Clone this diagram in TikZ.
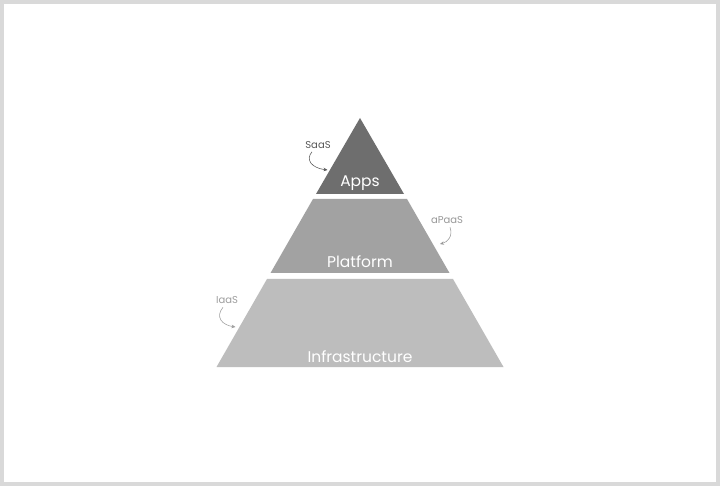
\documentclass[tikz,border=0pt]{standalone}
\usepackage{fontspec}
\setmainfont{Poppins}
\usetikzlibrary{arrows.meta}
\definecolor{appsc}{HTML}{6E6E6E}
\definecolor{platc}{HTML}{A2A2A2}
\definecolor{infrc}{HTML}{BDBDBD}
\definecolor{framec}{HTML}{D9D9D9}
\tikzset{
  layer/.style={draw=none},
  layertext/.style={text=white, font=\fontsize{15.5}{18}\selectfont, inner sep=0pt, anchor=base},
  tag/.style={font=\fontsize{10}{12}\selectfont, inner sep=0pt, anchor=base},
  tagarrow/.style={-{Stealth[length=4pt,width=3.5pt]}, line width=0.55pt},
}
\begin{document}
\begin{tikzpicture}[x=1pt,y=-1pt]
\useasboundingbox (0,0) rectangle (720,486);
\fill[white] (0,0) rectangle (720,486);
\draw[framec, line width=4pt] (2,2) rectangle (718,484);
% layers
\fill[appsc] (360,118) -- (404,194) -- (316,194) -- cycle;
\fill[platc] (313,199) -- (407,199) -- (449.5,273) -- (270.5,273) -- cycle;
\fill[infrc] (267,279) -- (453,279) -- (503.5,367) -- (216.5,367) -- cycle;
\node[layertext] (apps) at (360,187) {Apps};
\node[layertext] (plat) at (360,268) {Platform};
\node[layertext] (infra) at (360,362) {Infrastructure};
% tags
\node[tag, text=black!65] (saas) at (318,148.5) {SaaS};
\node[tag, text=black!40] (apaas) at (447,224) {aPaaS};
\node[tag, text=black!38] (iaas) at (227,304) {IaaS};
\coordinate (saasT) at (327.5,170);
\coordinate (apaasT) at (440,244);
\coordinate (iaasT) at (235.5,327);
\draw[tagarrow, black!65] ([xshift=-6pt,yshift=-3pt]saas.south) .. controls (305,160) and (312,168) .. (saasT);
\draw[tagarrow, black!40] ([xshift=3pt,yshift=-3pt]apaas.south) .. controls (453,236) and (448,242) .. (apaasT);
\draw[tagarrow, black!38] ([xshift=-4pt,yshift=-3pt]iaas.south) .. controls (215,317) and (222,325) .. (iaasT);
\end{tikzpicture}
\end{document}
